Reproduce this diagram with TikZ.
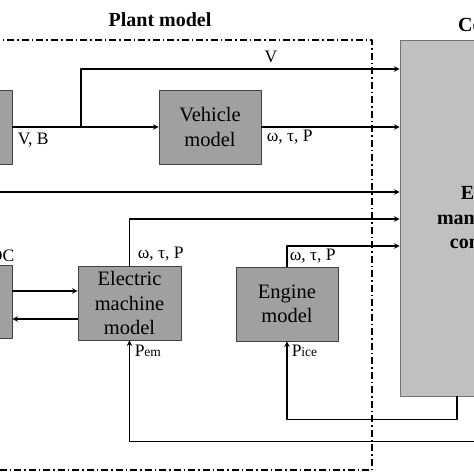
\documentclass[tikz,border=0pt]{standalone}
\usepackage{fontspec}
\setmainfont{Liberation Serif}
\definecolor{plantgrey}{RGB}{160,160,160}
\definecolor{ctrlgrey}{RGB}{192,192,192}
\begin{document}
\begin{tikzpicture}[x=1pt,y=-1pt,>=stealth, line join=round, line width=1.5pt,
		blk/.style={draw=black!75, line width=0.8pt, fill=plantgrey, minimum width=102pt, minimum height=74pt, inner sep=0pt, align=center, font=\fontsize{20.5}{24.5}\selectfont},
		lbl/.style={inner sep=0pt, font=\fontsize{17.5}{17.5}\selectfont}]
				\useasboundingbox (0,0) rectangle (474,474);
				\clip (0,0) rectangle (474,474);
				\draw [line width=1.5pt, dash pattern=on 7pt off 3pt on 1.5pt off 3pt] (-20,40) rectangle (372,470);
				\path (160,20) node[font=\fontsize{20}{20}\selectfont\bfseries] (tplant) {Plant model}
				(454,25) node[anchor=west, font=\fontsize{20}{20}\selectfont\bfseries] (tctrl) {Controller};
				\node[blk, minimum width=52pt] (batt) at (-14,127) {};
				\node[blk] (veh) at (210,127) {Vehicle\\model};
				\node[blk, minimum width=52pt, minimum height=73pt] (soc) at (-14,301.5) {};
				\node[blk, minimum width=103pt] (em) at (129.5,303) {Electric\\machine\\model};
				\node[blk] (eng) at (287,304) {Engine\\model};
				\node[blk, fill=ctrlgrey, draw=black!55, minimum width=184pt, minimum height=356pt, font=\fontsize{20}{24.5}\selectfont\bfseries] (ctrl) at (492,218) {Energy\\management\\controller};
				\coordinate (vb) at (81,127);
				\coordinate (drv) at (-10,192);
				\draw [->] (batt.east) -- (veh.west);
				\draw [->] (vb) |- (ctrl.west |- 0,69);
				\draw [->] (veh.east) -- (ctrl.west |- veh.east);
				\draw [->] (drv) -- (ctrl.west |- drv);
				\draw [->] (em.north) |- (ctrl.west |- 0,219);
				\draw [->] (eng.north) |- (ctrl.west |- 0,246);
				\draw [->] (soc.east |- 0,291) -- (em.west |- 0,291);
				\draw [->] (em.west |- 0,319) -- (soc.east |- 0,319);
				\draw [->] (ctrl.south -| 457,0) -- ++(0,23) -| (eng.south);
				\draw [->] (ctrl.south -| 520,0) -- ++(0,45) -| (em.south);
				\path (17,140) node[lbl, anchor=west] (lvb) {V, B}
				(271,57) node[lbl] (lv) {V}
				(266,137) node[lbl, anchor=west] (lveh) {ω, τ, P}
				(15,256) node[lbl, anchor=east] (lsoc) {SOC}
				(137,254) node[lbl, anchor=west] (lem) {ω, τ, P}
				(289,256) node[lbl, anchor=west] (leng) {ω, τ, P}
				(134,351) node[lbl, anchor=west] (lpem) {P{\fontsize{13.5}{13.5}\selectfont em}}
				(291,351) node[lbl, anchor=west] (lpice) {P{\fontsize{13.5}{13.5}\selectfont ice}};
		\end{tikzpicture}
\end{document}
